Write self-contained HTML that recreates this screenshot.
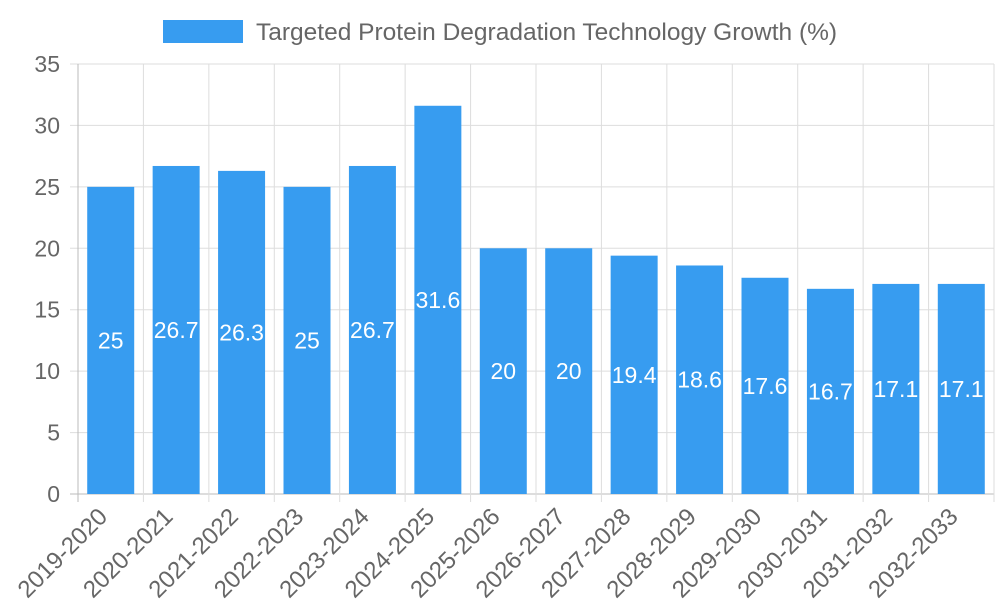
<!DOCTYPE html>
<html><head><meta charset="utf-8"><style>
body{margin:0;background:#fff;font-family:"Liberation Sans",sans-serif}
</style></head><body>
<svg id="chart" width="1000" height="600" xmlns="http://www.w3.org/2000/svg" font-family="Liberation Sans, sans-serif"></svg>
<script>
const categories=["2019-2020","2020-2021","2021-2022","2022-2023","2023-2024","2024-2025","2025-2026","2026-2027","2027-2028","2028-2029","2029-2030","2030-2031","2031-2032","2032-2033"];
const values=[25,26.7,26.3,25,26.7,31.6,20,20,19.4,18.6,17.6,16.7,17.1,17.1];
const yTicks=[0,5,10,15,20,25,30,35];
const seriesName="Targeted Protein Degradation Technology Growth (%)";
const svg=document.getElementById('chart');
const NS="http://www.w3.org/2000/svg";
const L=78,R=994,T=64,B=494,yMax=35;
const y=v=>B-(v/yMax)*(B-T);
const band=(R-L)/categories.length;
const x=i=>L+i*band;
function mk(tag,attrs,parent){const e=document.createElementNS(NS,tag);for(const k in attrs)e.setAttribute(k,attrs[k]);(parent||svg).appendChild(e);return e;}
yTicks.forEach(t=>{
 const g=mk('line',{x1:70,x2:R,y1:y(t),y2:y(t),stroke:t===0?'#bbb':'#ddd','stroke-width':1});
 
 
 const tx=mk('text',{x:60,y:y(t)+8,'text-anchor':'end','font-size':23,fill:'#666'});
 tx.textContent=t;
 
 
});
for(let i=0;i<=categories.length;i++){
 const g=mk('line',{x1:x(i),x2:x(i),y1:T,y2:B+8,stroke:i===0?'#bbb':'#ddd','stroke-width':1});
 
 
}
categories.forEach((c,i)=>{
 const bw=47,bx=x(i)+(band-bw)/2;
 const r=mk('rect',{x:bx,y:y(values[i]),width:bw,height:B-y(values[i]),fill:'#379cf0'});
 
 
 const vt=mk('text',{x:bx+bw/2,y:(y(values[i])+B)/2+8,'text-anchor':'middle','font-size':23,fill:'#fff'});
 vt.textContent=values[i];
 
 
 const cx=x(i)+band/2;
 const lt=mk('text',{x:cx-2,y:B+24,'text-anchor':'end','font-size':24,fill:'#666',transform:`rotate(-45 ${cx-2} ${B+24})`});
 lt.textContent=c;
 
 
});
const lb=mk('rect',{x:163,y:20,width:80,height:23,fill:'#379cf0'});


const lt=mk('text',{x:256,y:40,'font-size':24.5,fill:'#666'});
lt.textContent=seriesName;


</script>
</body></html>
